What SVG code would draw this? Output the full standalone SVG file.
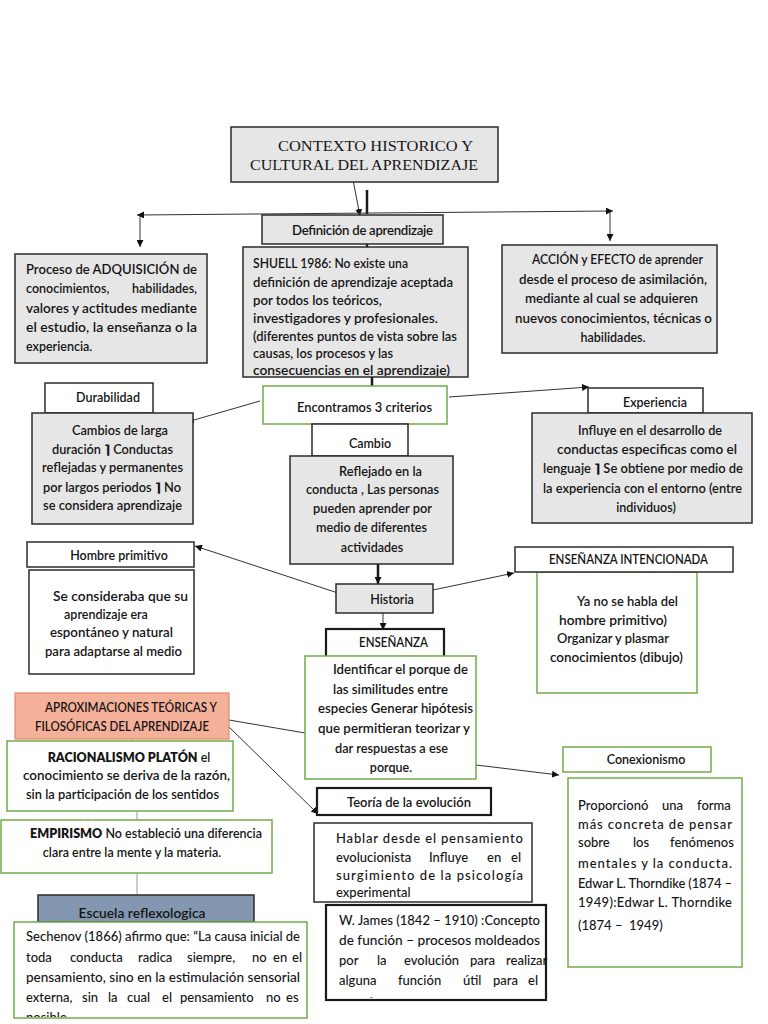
<svg xmlns="http://www.w3.org/2000/svg" width="768" height="1024" viewBox="0 0 768 1024">
<style>
.gray{fill:#e7e6e6;stroke:#2b2b2b;stroke-width:1.5}
.wht{fill:#fff;stroke:#2b2b2b;stroke-width:1.5}
.wht2{fill:#fff;stroke:#1a1a1a;stroke-width:2.2}
.grn{fill:#fff;stroke:#70ad47;stroke-width:1.5}
.t{font-family:Lato,"Open Sans","DejaVu Sans",sans-serif;font-size:12.5px;font-weight:600;fill:#151515}
.m{text-anchor:middle}
.b{font-weight:800}
.r{font-size:13px;font-weight:500}
.ttl{font-family:"Liberation Serif","Times New Roman",serif;font-size:15.5px;fill:#151515}
.conn{stroke:#333;stroke-width:1;fill:none}
.thk{stroke:#1a1a1a;stroke-width:2.5;fill:none}
.lt{stroke:#9a9a9a;stroke-width:1;fill:none}
</style>
<defs>
<marker id="ah" viewBox="0 0 10 10" refX="10" refY="5" markerWidth="7" markerHeight="7" orient="auto-start-reverse" markerUnits="userSpaceOnUse"><path d="M0,0 L10,5 L0,10 z" fill="#111"/></marker>
<clipPath id="cShuell"><rect x="243" y="247" width="225" height="129"/></clipPath>
<clipPath id="cSech"><rect x="14" y="922" width="293" height="95"/></clipPath>
</defs>

<g id="connectors">
<line class="thk" x1="367" y1="190" x2="367" y2="214"/>
<line class="conn" x1="347" y1="149" x2="360" y2="216" marker-end="url(#ah)"/>
<line class="conn" x1="137" y1="215" x2="613" y2="211" marker-start="url(#ah)" marker-end="url(#ah)"/>
<line class="conn" x1="140" y1="215" x2="140" y2="247" marker-end="url(#ah)"/>
<line class="conn" x1="610" y1="212" x2="610" y2="241" marker-end="url(#ah)"/>
<line class="thk" stroke-width="2" x1="367" y1="244" x2="367" y2="248"/>
<line class="thk" stroke-width="2" x1="372" y1="377" x2="372" y2="387"/>
<line class="conn" x1="260" y1="401" x2="187" y2="422" marker-end="url(#ah)"/>
<line class="conn" x1="449" y1="397" x2="589" y2="387" marker-end="url(#ah)"/>
<line class="thk" stroke-width="2" x1="378" y1="564" x2="378" y2="584" marker-end="url(#ah)"/>
<line class="conn" x1="338" y1="593" x2="195" y2="546" marker-end="url(#ah)"/>
<line class="conn" x1="433" y1="590" x2="514" y2="573" marker-end="url(#ah)"/>
<line class="conn" x1="383" y1="613" x2="383" y2="630" marker-end="url(#ah)"/>
<line class="conn" x1="229" y1="720" x2="305" y2="733"/>
<line class="conn" x1="229" y1="727" x2="318" y2="814" marker-end="url(#ah)"/>
<line class="lt" x1="133" y1="739" x2="133" y2="741"/>
<line class="lt" x1="137" y1="811" x2="137" y2="820"/>
<line class="lt" x1="137" y1="873" x2="137" y2="895"/>
<line class="conn" x1="476" y1="765" x2="559" y2="775" marker-end="url(#ah)"/>
</g>

<g id="titulo">
<rect x="231" y="127" width="267" height="55" fill="#e6e6e6" stroke="#2b2b2b" stroke-width="1.5"/>
<text class="ttl" x="278" y="151" textLength="195" lengthAdjust="spacingAndGlyphs">CONTEXTO HISTORICO Y</text>
<text class="ttl" x="250" y="170" textLength="228" lengthAdjust="spacingAndGlyphs">CULTURAL DEL APRENDIZAJE</text>
</g>

<g id="definicion">
<rect class="gray" x="262" y="215" width="181" height="29"/>
<text class="t" x="292" y="235" textLength="141" lengthAdjust="spacing" style="font-size:13.2px">Definición de aprendizaje</text>
</g>

<g id="proceso">
<rect class="gray" x="15" y="254" width="192" height="109"/>
<text class="t" x="26" y="274" textLength="171" lengthAdjust="spacingAndGlyphs">Proceso de ADQUISICIÓN de</text>
<text class="t" x="26" y="293">conocimientos,</text>
<text class="t" x="197" y="293" text-anchor="end">habilidades,</text>
<text class="t" x="26" y="313" textLength="171" lengthAdjust="spacingAndGlyphs">valores y actitudes mediante</text>
<text class="t" x="26" y="332" textLength="171" lengthAdjust="spacingAndGlyphs">el estudio, la enseñanza o la</text>
<text class="t" x="26" y="351">experiencia.</text>
</g>

<g id="shuell">
<rect class="gray" x="243" y="247" width="225" height="130"/>
<g clip-path="url(#cShuell)">
<text class="t" x="253" y="268" textLength="155" lengthAdjust="spacingAndGlyphs">SHUELL 1986: No existe una</text>
<text class="t" x="253" y="287" textLength="200" lengthAdjust="spacingAndGlyphs">definición de aprendizaje aceptada</text>
<text class="t" x="253" y="305" style="font-size:13.2px">por todos los teóricos,</text>
<text class="t" x="253" y="323" textLength="185" lengthAdjust="spacingAndGlyphs">investigadores y profesionales.</text>
<text class="t" x="253" y="341" textLength="204" lengthAdjust="spacingAndGlyphs">(diferentes puntos de vista sobre las</text>
<text class="t" x="253" y="358" textLength="140" lengthAdjust="spacingAndGlyphs">causas, los procesos y las</text>
<text class="t" x="253" y="375" textLength="197" lengthAdjust="spacingAndGlyphs">consecuencias en el aprendizaje)</text>
</g>
</g>

<g id="accion">
<rect class="gray" x="502" y="245" width="215" height="108"/>
<text class="t" x="532" y="264" textLength="171" lengthAdjust="spacingAndGlyphs">ACCIÓN y EFECTO de aprender</text>
<text class="t" x="519" y="284" textLength="188" lengthAdjust="spacingAndGlyphs">desde el proceso de asimilación,</text>
<text class="t" x="525" y="303" textLength="173" lengthAdjust="spacingAndGlyphs">mediante al cual se adquieren</text>
<text class="t" x="515" y="323" textLength="197" lengthAdjust="spacingAndGlyphs">nuevos conocimientos, técnicas o</text>
<text class="t m" x="613" y="342">habilidades.</text>
</g>

<g id="encontramos">
<rect class="grn" x="263" y="386" width="184" height="38"/>
<text class="t" x="297" y="412" textLength="135" lengthAdjust="spacingAndGlyphs">Encontramos 3 criterios</text>
</g>

<g id="durabilidad">
<rect class="wht" x="45" y="383" width="108" height="30"/>
<text class="t m" x="108" y="402">Durabilidad</text>
<rect class="gray" x="32" y="413" width="161" height="111"/>
<text class="t" x="72" y="435" textLength="96" lengthAdjust="spacingAndGlyphs">Cambios de larga</text>
<text class="t" x="52" y="454" textLength="121" lengthAdjust="spacingAndGlyphs">duración ⌉ Conductas</text>
<text class="t" x="42" y="472" textLength="141" lengthAdjust="spacingAndGlyphs">reflejadas y permanentes</text>
<text class="t" x="43" y="492" textLength="138" lengthAdjust="spacingAndGlyphs">por largos periodos ⌉ No</text>
<text class="t" x="43" y="510" textLength="139" lengthAdjust="spacingAndGlyphs">se considera aprendizaje</text>
</g>

<g id="cambio">
<rect class="wht" x="312" y="424" width="96" height="32"/>
<text class="t m" x="370" y="448">Cambio</text>
<rect class="gray" x="290" y="456" width="163" height="108"/>
<text class="t" x="339" y="476" textLength="83" lengthAdjust="spacingAndGlyphs">Reflejado en la</text>
<text class="t" x="306" y="494" textLength="133" lengthAdjust="spacingAndGlyphs">conducta , Las personas</text>
<text class="t" x="313" y="513" textLength="119" lengthAdjust="spacingAndGlyphs">pueden aprender por</text>
<text class="t" x="316" y="532" textLength="111" lengthAdjust="spacingAndGlyphs">medio de diferentes</text>
<text class="t m" x="372" y="552">actividades</text>
</g>

<g id="experiencia">
<rect class="wht" x="588" y="388" width="115" height="25"/>
<text class="t m" x="655" y="407">Experiencia</text>
<rect class="gray" x="532" y="413" width="220" height="110"/>
<text class="t" x="578" y="435" textLength="144" lengthAdjust="spacingAndGlyphs">Influye en el desarrollo de</text>
<text class="t" x="557" y="454" textLength="180" lengthAdjust="spacingAndGlyphs">conductas especificas como el</text>
<text class="t" x="543" y="473" textLength="200" lengthAdjust="spacingAndGlyphs">lenguaje ⌉ Se obtiene por medio de</text>
<text class="t" x="543" y="493" textLength="199" lengthAdjust="spacingAndGlyphs">la experiencia con el entorno (entre</text>
<text class="t m" x="646" y="512">individuos)</text>
</g>

<g id="hombre-primitivo">
<rect class="wht" x="27" y="542" width="167" height="25"/>
<text class="t m" x="119" y="560">Hombre primitivo</text>
<rect class="wht" x="29" y="570" width="165" height="104"/>
<text class="t" x="53" y="601" textLength="135" lengthAdjust="spacingAndGlyphs">Se consideraba que su</text>
<text class="t m" x="106" y="619">aprendizaje era</text>
<text class="t" x="50" y="637" textLength="123" lengthAdjust="spacingAndGlyphs">espontáneo y natural</text>
<text class="t" x="45" y="656" textLength="137" lengthAdjust="spacingAndGlyphs">para adaptarse al medio</text>
</g>

<g id="historia">
<rect class="gray" x="336" y="584" width="97" height="29"/>
<text class="t m" x="392" y="604">Historia</text>
</g>

<g id="ensenanza-intencionada">
<rect class="grn" x="537" y="572" width="160" height="121"/>
<rect class="wht" x="515" y="547" width="218" height="25"/>
<text class="t" x="549" y="564" textLength="159" lengthAdjust="spacingAndGlyphs">ENSEÑANZA INTENCIONADA</text>
<text class="t" x="577" y="606" textLength="101" lengthAdjust="spacingAndGlyphs">Ya no se habla del</text>
<text class="t" x="559" y="625" textLength="108" lengthAdjust="spacingAndGlyphs">hombre primitivo)</text>
<text class="t" x="557" y="643" textLength="112" lengthAdjust="spacingAndGlyphs">Organizar y plasmar</text>
<text class="t" x="550" y="662" textLength="133" lengthAdjust="spacingAndGlyphs">conocimientos (dibujo)</text>
</g>

<g id="ensenanza">
<rect class="wht2" x="326" y="629" width="118" height="28"/>
<text class="t" x="359" y="647" textLength="69" lengthAdjust="spacingAndGlyphs">ENSEÑANZA</text>
<rect class="grn" x="305" y="656" width="171" height="123"/>
<text class="t" x="333" y="674" textLength="135" lengthAdjust="spacingAndGlyphs">Identificar el porque de</text>
<text class="t" x="333" y="694" textLength="115" lengthAdjust="spacingAndGlyphs">las similitudes entre</text>
<text class="t" x="318" y="713" textLength="155" lengthAdjust="spacingAndGlyphs">especies Generar hipótesis</text>
<text class="t" x="318" y="733" textLength="152" lengthAdjust="spacingAndGlyphs">que permitieran teorizar y</text>
<text class="t" x="335" y="753" textLength="113" lengthAdjust="spacingAndGlyphs">dar respuestas a ese</text>
<text class="t m" x="391" y="772">porque.</text>
</g>

<g id="aproximaciones">
<rect x="15" y="693" width="214" height="46" fill="#f5b09a" stroke="#e08a6c" stroke-width="1.2"/>
<text class="t" x="45" y="712" textLength="172" lengthAdjust="spacingAndGlyphs">APROXIMACIONES TEÓRICAS Y</text>
<text class="t" x="35" y="731" textLength="174" lengthAdjust="spacingAndGlyphs">FILOSÓFICAS DEL APRENDIZAJE</text>
</g>

<g id="racionalismo">
<rect class="grn" x="7" y="741" width="226" height="70"/>
<text class="t m" x="129" y="762"><tspan class="b">RACIONALISMO PLATÓN</tspan> el</text>
<text class="t" x="23" y="780" textLength="207" lengthAdjust="spacingAndGlyphs">conocimiento se deriva de la razón,</text>
<text class="t" x="26" y="799" textLength="193" lengthAdjust="spacingAndGlyphs">sin la participación de los sentidos</text>
</g>

<g id="empirismo">
<rect class="grn" x="1" y="820" width="271" height="53"/>
<text class="t m" x="146" y="838"><tspan class="b">EMPIRISMO</tspan> No estableció una diferencia</text>
<text class="t m" x="132" y="857">clara entre la mente y la materia.</text>
</g>

<g id="escuela-reflexologica">
<rect x="38" y="895" width="216" height="27" fill="#8497b0" stroke="#2b2b2b" stroke-width="1.5"/>
<text class="t m" x="142" y="918" style="font-size:13.8px">Escuela reflexologica</text>
</g>

<g id="sechenov">
<rect class="grn" x="14" y="922" width="293" height="96"/>
<g clip-path="url(#cSech)">
<text class="t r" x="26" y="941" textLength="274" lengthAdjust="spacingAndGlyphs">Sechenov (1866) afirmo que: “La causa inicial de</text>
<text class="t r" y="962"><tspan x="26">toda</tspan><tspan x="70">conducta</tspan><tspan x="138">radica</tspan><tspan x="187">siempre,</tspan><tspan x="252">no</tspan><tspan x="273">en</tspan><tspan x="292">el</tspan></text>
<text class="t r" x="26" y="982" textLength="274" lengthAdjust="spacingAndGlyphs">pensamiento, sino en la estimulación sensorial</text>
<text class="t r" y="1002"><tspan x="26">externa,</tspan><tspan x="82">sin</tspan><tspan x="108">la</tspan><tspan x="127">cual</tspan><tspan x="162">el</tspan><tspan x="180">pensamiento</tspan><tspan x="266">no</tspan><tspan x="286">es</tspan></text>
<text class="t r" x="26" y="1022">posible.</text>
</g>
</g>

<g id="teoria-evolucion">
<rect class="wht2" x="317" y="788" width="174" height="27"/>
<text class="t m" x="409" y="807" style="font-size:13px">Teoría de la evolución</text>
</g>

<g id="hablar">
<rect class="wht" x="314" y="823" width="218" height="79"/>
<text class="t r" x="336" y="843" textLength="187" lengthAdjust="spacing">Hablar desde el pensamiento</text>
<text class="t r" y="862"><tspan x="336">evolucionista</tspan><tspan x="429">Influye</tspan><tspan x="487">en</tspan><tspan x="511">el</tspan></text>
<text class="t r" x="336" y="880" textLength="187" lengthAdjust="spacing">surgimiento de la psicología</text>
<text class="t r" x="336" y="897">experimental</text>
</g>

<g id="wjames">
<rect class="wht2" x="326" y="905" width="220" height="95"/>
<text class="t r" x="339" y="925" textLength="201" lengthAdjust="spacingAndGlyphs">W. James (1842 – 1910) :Concepto</text>
<text class="t r" x="339" y="945" textLength="201" lengthAdjust="spacingAndGlyphs">de función – procesos moldeados</text>
<text class="t r" y="965"><tspan x="339">por</tspan><tspan x="377">la</tspan><tspan x="404">evolución</tspan><tspan x="470">para</tspan><tspan x="506">realizar</tspan></text>
<text class="t r" y="985"><tspan x="339">alguna</tspan><tspan x="398">función</tspan><tspan x="463">útil</tspan><tspan x="493">para</tspan><tspan x="528">el</tspan></text>
<text class="t" x="370" y="1000" style="font-size:7px">-</text>
</g>

<g id="conexionismo">
<rect class="grn" x="563" y="747" width="148" height="25"/>
<text class="t m" x="646" y="764">Conexionismo</text>
<rect class="grn" x="568" y="778" width="174" height="189"/>
<text class="t r" y="810"><tspan x="578">Proporcionó</tspan><tspan x="662">una</tspan><tspan x="697">forma</tspan></text>
<text class="t r" x="578" y="829" textLength="154" lengthAdjust="spacing">más concreta de pensar</text>
<text class="t r" y="847"><tspan x="578">sobre</tspan><tspan x="633">los</tspan><tspan x="670">fenómenos</tspan></text>
<text class="t r" x="578" y="868" textLength="154" lengthAdjust="spacing">mentales y la conducta.</text>
<text class="t r" x="578" y="888" textLength="154" lengthAdjust="spacing">Edwar L. Thorndike (1874 –</text>
<text class="t r" x="578" y="907" textLength="154" lengthAdjust="spacing">1949):Edwar L. Thorndike</text>
<text class="t r" x="578" y="930" xml:space="preserve">(1874 –  1949)</text>
</g>
</svg>
